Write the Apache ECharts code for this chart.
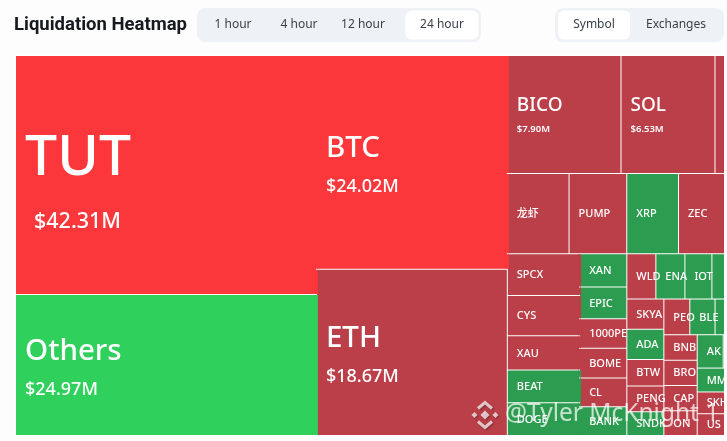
<!DOCTYPE html>
<html><head><meta charset="utf-8">
<style>html,body{margin:0;padding:0;background:#fdfdfd}#c{width:727px;height:441px}</style>
<script src="https://cdn.jsdelivr.net/npm/echarts@6/dist/echarts.min.js"></script></head>
<body><div id="c"></div>
<script>
const names = ['TUT','Others','BTC','ETH','BICO','SOL','','龙虾','PUMP','XRP','ZEC','','SPCX','CYS','XAU','BEAT','DOGE','XAN','EPIC','1000PE','BOME','CL','BANK','WLD','ENA','IOT','','','SKYA','ADA','BTW','PENG','SNDK','PEO','BLE','','','BNB','BRO','CAP','ON','AK','','','MM','SKH','US','','','',''];
const values = [42.31,24.97,24.02,18.67,7.90,6.53,3.51,2.91,2.72,2.44,2.25,1.85,1.776,1.72,1.45,1.395,1.395,0.925,0.883,0.82,0.82,0.80,0.80,0.775,0.775,0.72,0.715,0.715,0.66,0.66,0.575,0.56,0.52,0.545,0.53,0.53,0.53,0.50,0.495,0.495,0.486,0.51,0.41,0.42,0.45,0.41,0.41,0.36,0.36,0.36,0.36];
const tones = ['hot','up','hot','short','short','short','short','short','short','long','short','short','short','short','short','long','long','long','long','short','short','short','long','short','long','long','long','long','short','long','short','short','long','short','long','long','long','short','short','short','short','long','long','long','long','short','short','short','short','short','short'];
const rangeTabs = ['1 hour','4 hour','12 hour','24 hour'];
const viewTabs = ['Symbol','Exchanges'];
const toneColors = {hot:'#fb373b',up:'#2fd05b',short:'#bb3f48',long:'#2c9c50'};
const FONT = '"Noto Sans","Noto Sans CJK SC",sans-serif';
const AREA = {x:15,y:55,width:751,height:381};

function tab(text,cx,active,w){
  const out=[];
  if(active) out.push({type:'rect',z:101,shape:{x:cx-w/2,y:10.5,width:w,height:29,r:6},style:{fill:'#ffffff'}});
  out.push({type:'text',z:102,x:cx,y:25,style:{text:text,fill:'#3a3f47',font:'12px '+FONT,textAlign:'center',textVerticalAlign:'middle'}});
  return out;
}
const rangeX=[233,299,363,442], viewX=[594,676];
const graphic=[
  {type:'rect',z:100,shape:{x:724,y:0,width:3,height:441},style:{fill:'#fdfdfd'}},
  {type:'text',z:102,x:14,y:25,style:{text:'Liquidation Heatmap',fill:'#16191e',font:'bold 18.5px "Roboto",sans-serif',textVerticalAlign:'middle'}},
  {type:'rect',z:100,shape:{x:197,y:8,width:284,height:34,r:8},style:{fill:'#eef2f6'}},
  {type:'rect',z:100,shape:{x:555,y:8,width:169,height:34,r:8},style:{fill:'#eef2f6'}}
];
rangeTabs.forEach((t,i)=>graphic.push(...tab(t,rangeX[i],i===3,73)));
viewTabs.forEach((t,i)=>graphic.push(...tab(t,viewX[i],i===0,72)));
const wm='rgba(255,255,255,0.72)', wmShadow={shadowBlur:2,shadowColor:'rgba(0,0,0,0.45)',shadowOffsetX:1,shadowOffsetY:1};
graphic.push({type:'text',z:110,x:505,y:414,style:Object.assign({text:'@Tyler McKnight 1',fill:wm,font:'24.5px "Noto Sans",sans-serif',textVerticalAlign:'middle'},wmShadow)});
[[[478,408.5],[485,402.5],[492,408.5]],[[478,421.5],[485,427.5],[492,421.5]]].forEach(p=>graphic.push({type:'polyline',z:110,shape:{points:p},style:Object.assign({stroke:wm,lineWidth:3,fill:null},wmShadow)}));
[[474.5,415,3],[495.5,415,3],[485,415,4.5]].forEach(d=>graphic.push({type:'polygon',z:110,shape:{points:[[d[0],d[1]-d[2]],[d[0]+d[2],d[1]],[d[0],d[1]+d[2]],[d[0]-d[2],d[1]]]},style:Object.assign({fill:wm},wmShadow)}));

function label(p){
  const v=p.value, name=p.name;
  if(name==='TUT') return '{a|'+name+'}\n{av|$'+v.toFixed(2)+'M}';
  if(v>=15) return '{b|'+name+'}\n{bv|$'+v.toFixed(2)+'M}';
  if(v>=5) return '{c|'+name+'}\n{cv|$'+v.toFixed(2)+'M}';
  return name;
}
function block(i){
  const v=values[i];
  if(names[i]==='TUT') return {h:126,shift:10};
  if(v>=15) return {h:76,shift:5};
  if(v>=5) return {h:46,shift:2};
  return {h:14,shift:0};
}
function makeData(layouts){
  return names.map((n,i)=>{
    const d={name:n,value:values[i],itemStyle:{color:toneColors[tones[i]]}};
    if(layouts){const b=block(i);d.label={padding:[Math.max((layouts[i].height-b.h)/2+b.shift,0),0,0,9]};}
    return d;
  });
}
const base={type:'treemap',left:AREA.x,top:AREA.y,width:AREA.width,height:AREA.height,
    sort:false,roam:false,nodeClick:false,breadcrumb:{show:false},
    itemStyle:{borderColor:'#fff',borderWidth:0.5,gapWidth:0},
    label:{show:true,position:'insideTopLeft',distance:0,color:'#fff',fontFamily:FONT,fontSize:11,fontWeight:500,lineHeight:14,
      overflow:'none',formatter:label,
      rich:{
        a:{fontSize:57,color:'#fff',fontFamily:FONT,lineHeight:72},
        av:{fontSize:21.5,color:'#fff',fontFamily:FONT,fontWeight:500,lineHeight:54,padding:[0,0,0,9]},
        b:{fontSize:29.5,color:'#fff',fontFamily:FONT,lineHeight:38},
        bv:{fontSize:18,color:'#fff',fontFamily:FONT,fontWeight:500,lineHeight:38},
        c:{fontSize:19,color:'#fff',fontFamily:FONT,lineHeight:24},
        cv:{fontSize:9.5,color:'#fff',fontFamily:FONT,fontWeight:600,lineHeight:22}
      }},
    upperLabel:{show:false},
    levels:[{itemStyle:{borderColor:'#fff',borderWidth:0.5,gapWidth:0}}]};
const chart=echarts.init(document.getElementById('c'));
chart.setOption({animation:false,backgroundColor:'#fdfdfd',graphic:graphic,series:[Object.assign({},base,{data:makeData(null)})]});

// second pass: vertical centring of labels and the column seams come from the computed layout
const root=chart.getModel().getSeriesByIndex(0).getData().tree.root;
const layouts=root.children.map(c=>{const l=c.getLayout();return {x:l.x,y:l.y,width:l.width,height:l.height};});
const seamGroups=[[['TUT','Others'],['BTC','ETH']],[['BTC'],['BICO','龙虾','SPCX']],[['SPCX','CYS','XAU','BEAT','DOGE'],['XAN','EPIC','1000PE','BOME','CL','BANK']]];
const seams=[];
seamGroups.forEach(g=>g[0].forEach(a=>g[1].forEach(b=>{
  const i=names.indexOf(a),j=names.indexOf(b),L=layouts[i],R=layouts[j];
  const top=Math.max(L.y,R.y),bot=Math.min(L.y+L.height,R.y+R.height);
  if(bot>top) seams.push({type:'rect',z:50,shape:{x:AREA.x+R.x-1.5,y:AREA.y+top+0.5,width:3,height:bot-top-1},style:{fill:toneColors[tones[i]]}});
})));
chart.setOption({graphic:graphic.concat(seams),series:[{data:makeData(layouts)}]});
</script></body></html>
